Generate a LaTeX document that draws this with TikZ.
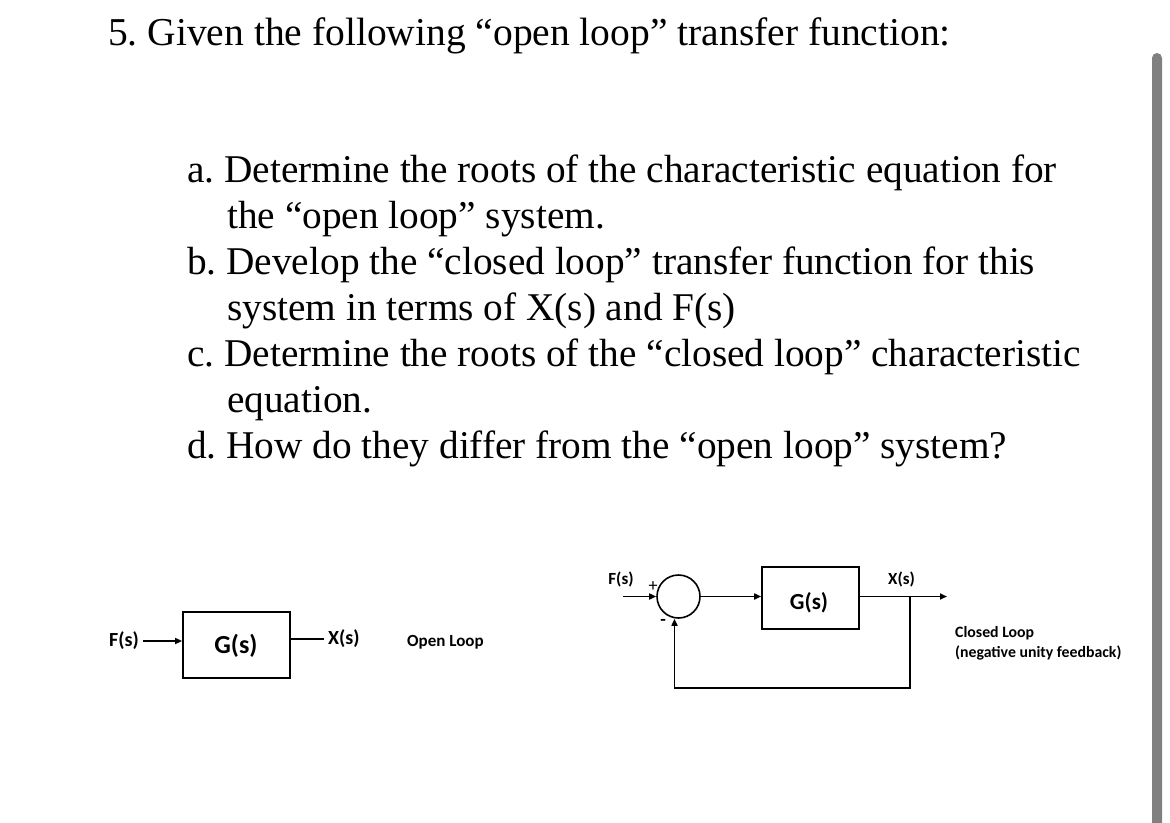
\documentclass[tikz,border=0pt]{standalone}
\usepackage{fontspec}
\setmainfont{Liberation Serif}
\newfontfamily\calib{Carlito}
\usetikzlibrary{arrows.meta}
\frenchspacing
\begin{document}
\begin{tikzpicture}[x=1pt,y=-1pt,
  txt/.style={anchor=base west,inner sep=0pt,font=\fontsize{39.3}{46}\selectfont},
  lbl/.style={inner sep=0pt,font=\calib\bfseries\fontsize{#1}{#1}\selectfont},
  blk/.style={draw,line width=1.8pt,inner sep=0pt},
  wire/.style={line width=1.6pt},
  arr/.style={line width=1.6pt,-{Triangle[length=7pt,width=6pt]}}]
\useasboundingbox (0,0) rectangle (1170,822);
\fill[white] (0,0) rectangle (1170,822);
% scrollbar
\fill[gray,rounded corners=5pt] (1152,53) rectangle (1162,840);
% title
\node[txt,font=\fontsize{39.5}{46}\selectfont] (title) at (108,45) {5. Given the following “open loop” transfer function:};
% list
\node[txt] (a1) at (187,182) {a. Determine the roots of the characteristic equation for};
\node[txt] (a2) at (227,228) {the “open loop” system.};
\node[txt] (b1) at (187,274) {b. Develop the “closed loop” transfer function for this};
\node[txt] (b2) at (227,320) {system in terms of X(s) and F(s)};
\node[txt] (c1) at (187,366) {c. Determine the roots of the “closed loop” characteristic};
\node[txt] (c2) at (227,412) {equation.};
\node[txt] (d1) at (187,458) {d. How do they differ from the “open loop” system?};
% open loop
\node[lbl=20] (ofs) at (124,641) {F(s)};
\node[blk,minimum width=107pt,minimum height=66pt] (og) at (236.5,645) {};
\node[lbl=26] (ogt) at (236,646) {G(s)};
\node[lbl=20,anchor=west] (oxs) at (328,639) {X(s)};
\node[lbl=17,anchor=west] (ol) at (407,642) {Open Loop};
\draw[arr] (ofs.east) ++(4,0) coordinate (ofsa) -- (og.west |- ofsa);
\draw[wire] (og.east |- oxs.west) -- ([xshift=-4pt]oxs.west);
% closed loop
\node[lbl=17] (cfs) at (621,579.5) {F(s)};
\node[inner sep=0pt,font=\calib\fontsize{18}{18}\selectfont] (plus) at (653,587) {+};
\node[draw,circle,line width=1.6pt,minimum size=43pt,inner sep=0pt] (sum) at (678.5,596.5) {};
\node[lbl=18] (minus) at (663,622) {-};
\node[blk,line width=1.6pt,minimum width=97pt,minimum height=62pt] (cg) at (810.5,598) {};
\node[lbl=23] (cgt) at (809,603) {G(s)};
\node[lbl=17] (cxs) at (901.5,579) {X(s)};
\coordinate (cin) at (623,596.5);
\coordinate (cout) at (947,596.5);
\coordinate (br) at (910,596.5);
\coordinate (fb) at (910,688);
\node[lbl=15.8,anchor=west] (cl1) at (955,633) {Closed Loop};
\node[lbl=15.8,anchor=west] (cl2) at (955,653) {(negative unity feedback)};
\draw[arr] (cin) -- (sum.west);
\draw[arr] (sum.east) -- (cg.west |- sum.east);
\draw[arr] (cg.east |- sum.east) -- (cout);
\draw[arr] (br) -- (fb) -| ([xshift=-4pt]sum.south);
\end{tikzpicture}
\end{document}
